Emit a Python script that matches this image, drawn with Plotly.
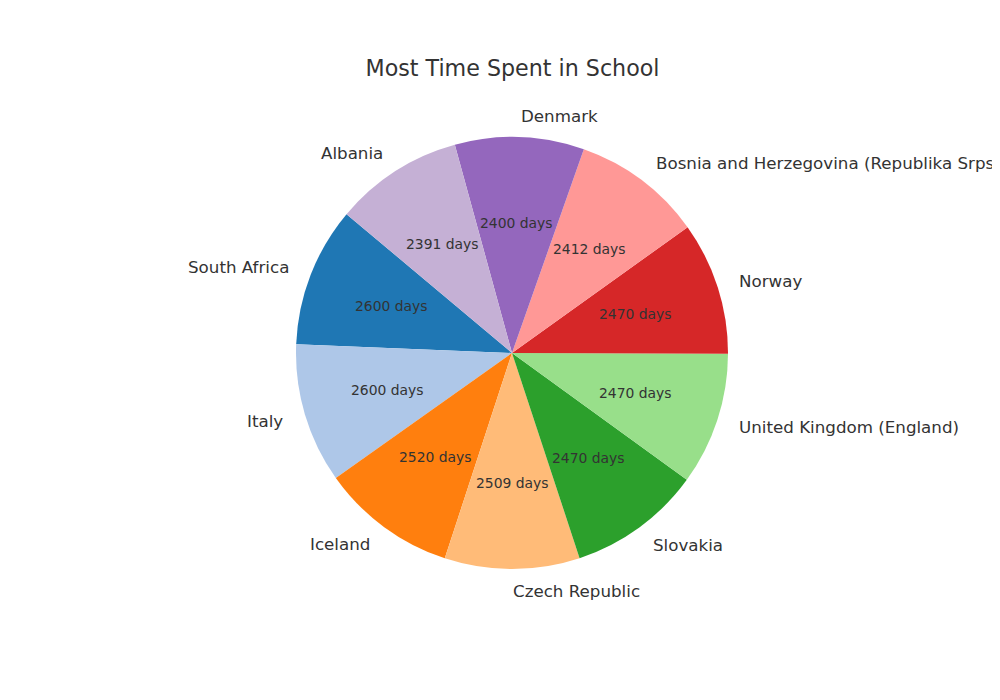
import math
import plotly.graph_objects as go

countries = ["South Africa", "Italy", "Iceland", "Czech Republic", "Slovakia",
             "United Kingdom (England)", "Norway",
             "Bosnia and Herzegovina (Republika Srpska)", "Denmark", "Albania"]
days = [2600, 2600, 2520, 2509, 2470, 2470, 2470, 2412, 2400, 2391]
colors = ["#1f77b4", "#aec7e8", "#ff7f0e", "#ffbb78", "#2ca02c",
          "#98df8a", "#d62728", "#ff9896", "#9467bd", "#c5b0d5"]

W, H = 1000, 700
page_offset = 8  # browser body margin
cx_px, cy_px, r_px = 512 - page_offset, 353 - page_offset, 216
start_angle = 140.0  # degrees, counterclockwise from 3 o'clock

cx = cx_px / W
cy = 1 - cy_px / H
rx = r_px / W
ry = r_px / H

fig = go.Figure()
fig.add_trace(go.Pie(
    labels=countries, values=days, sort=False, direction="counterclockwise",
    rotation=90 - start_angle - 360 * days[0] / sum(days),
    domain=dict(x=[cx - rx, cx + rx], y=[cy - ry, cy + ry]),
    marker=dict(colors=colors, line=dict(width=0)),
    textinfo="none", hoverinfo="label+value", showlegend=False,
))

annotations = []
total = sum(days)
theta = start_angle
for name, v in zip(countries, days):
    span = 360 * v / total
    mid = math.radians(theta + span / 2)
    c, s = math.cos(mid), math.sin(mid)
    annotations.append(dict(
        x=cx + 1.1 * rx * c, y=cy + 1.1 * ry * s, xref="paper", yref="paper",
        text=name, showarrow=False, xanchor="left" if c > 0 else "right",
        yanchor="middle", font=dict(size=16.7, color="#333333", family="DejaVu Sans"),
        borderpad=0,
    ))
    annotations.append(dict(
        x=cx + 0.6 * rx * c, y=cy + 0.6 * ry * s, xref="paper", yref="paper",
        text=f"{v} days", showarrow=False, xanchor="center", yanchor="middle",
        font=dict(size=13.9, color="#333333", family="DejaVu Sans"),
        borderpad=0,
    ))
    theta += span

fig.update_layout(
    width=W, height=H,
    margin=dict(l=0, r=0, t=0, b=0),
    paper_bgcolor="white", plot_bgcolor="white",
    font=dict(family="DejaVu Sans", color="#333333"),
    title=dict(text="Most Time Spent in School", x=(512.5 - page_offset) / W, xanchor="center",
               y=1 - (68 - page_offset) / H, yanchor="middle",
               font=dict(size=22.2, color="#333333", family="DejaVu Sans")),
    annotations=annotations,
    showlegend=False,
)
fig.write_html("out.html")
